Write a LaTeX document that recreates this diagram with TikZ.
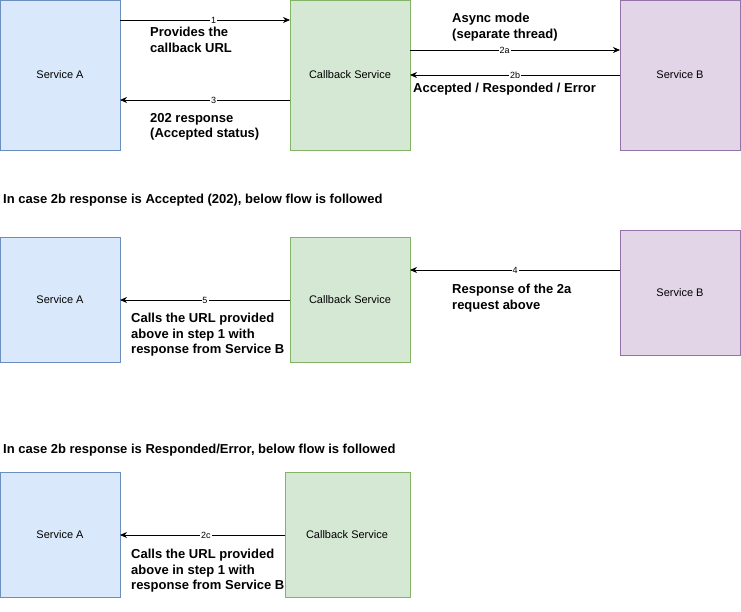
\documentclass[tikz,border=0pt]{standalone}
\usepackage{fontspec}
\setmainfont{Liberation Sans}
\usetikzlibrary{arrows.meta}
\definecolor{fa}{HTML}{DAE8FC}\definecolor{da}{HTML}{6C8EBF}
\definecolor{fc}{HTML}{D5E8D4}\definecolor{dc}{HTML}{82B366}
\definecolor{fb}{HTML}{E1D5E7}\definecolor{db}{HTML}{9673A6}
\begin{document}
\begin{tikzpicture}[x=1pt,y=-1pt,
  sa/.style={draw=da,fill=fa,line width=0.7pt},
  cb/.style={draw=dc,fill=fc,line width=0.7pt},
  sb/.style={draw=db,fill=fb,line width=0.7pt},
  lbl/.style={font=\fontsize{11}{13}\selectfont},
  arr/.style={-{Stealth[length=7pt,width=6pt]},line width=0.7pt},
  num/.style={fill=white,inner sep=1pt,font=\fontsize{9}{10}\selectfont},
  bl/.style={font=\bfseries\fontsize{13}{15.5}\selectfont,align=left,anchor=north west,inner sep=0pt}]
\useasboundingbox (0,0) rectangle (741,611);
\fill[white] (0,0) rectangle (741,611);
% row 1
\draw[sa] (0.5,0.5) rectangle (120,150); \node[lbl] (a1) at (60,75) {Service A};
\draw[cb] (290,0.5) rectangle (410,150); \node[lbl] (c1) at (350,75) {Callback Service};
\draw[sb] (620,0.5) rectangle (740,150); \node[lbl] (b1) at (680,75) {Service B};
\coordinate (p1) at (120,20); \coordinate (q1) at (290,20);
\draw[arr] (p1) -- node[num,pos=0.55]{1} (q1);
\coordinate (p3) at (290,100); \coordinate (q3) at (120,100);
\draw[arr] (p3) -- node[num,pos=0.45]{3} (q3);
\coordinate (p2a) at (410,50); \coordinate (q2a) at (620,50);
\draw[arr] (p2a) -- node[num,pos=0.45]{2a} (q2a);
\coordinate (p2b) at (620,75); \coordinate (q2b) at (410,75);
\draw[arr] (p2b) -- node[num,pos=0.5]{2b} (q2b);
\node[bl] (t1) at (150,27) {Provides the\\callback URL};
\node[bl] (t3) at (150,113) {202 response\\(Accepted status)};
\node[bl] (t2a) at (452,13) {Async mode\\(separate thread)};
\node[bl] (t2b) at (413,83) {Accepted / Responded / Error};
\node[bl] (h2) at (3,194) {In case 2b response is Accepted (202), below flow is followed};
% row 2
\draw[sa] (0.5,237) rectangle (120,362); \node[lbl] (a2) at (60,300) {Service A};
\draw[cb] (290,237) rectangle (410,362); \node[lbl] (c2) at (350,300) {Callback Service};
\draw[sb] (620,230) rectangle (740,355); \node[lbl] (b2) at (680,293) {Service B};
\coordinate (p4) at (620,270); \coordinate (q4) at (410,270);
\draw[arr] (p4) -- node[num,pos=0.5]{4} (q4);
\coordinate (p5) at (290,300); \coordinate (q5) at (120,300);
\draw[arr] (p5) -- node[num,pos=0.5]{5} (q5);
\node[bl] (t4) at (452,284) {Response of the 2a\\request above};
\node[bl] (t5) at (131,313) {Calls the URL provided\\above in step 1 with\\response from Service B};
\node[bl] (h3) at (3,444) {In case 2b response is Responded/Error, below flow is followed};
% row 3
\draw[sa] (0.5,472) rectangle (120,597); \node[lbl] (a3) at (60,535) {Service A};
\draw[cb] (285,472) rectangle (410,597); \node[lbl] (c3) at (347,535) {Callback Service};
\coordinate (p6) at (285,535); \coordinate (q6) at (120,535);
\draw[arr] (p6) -- node[num,pos=0.48]{2c} (q6);
\node[bl] (t6) at (131,549) {Calls the URL provided\\above in step 1 with\\response from Service B};
\end{tikzpicture}
\end{document}
